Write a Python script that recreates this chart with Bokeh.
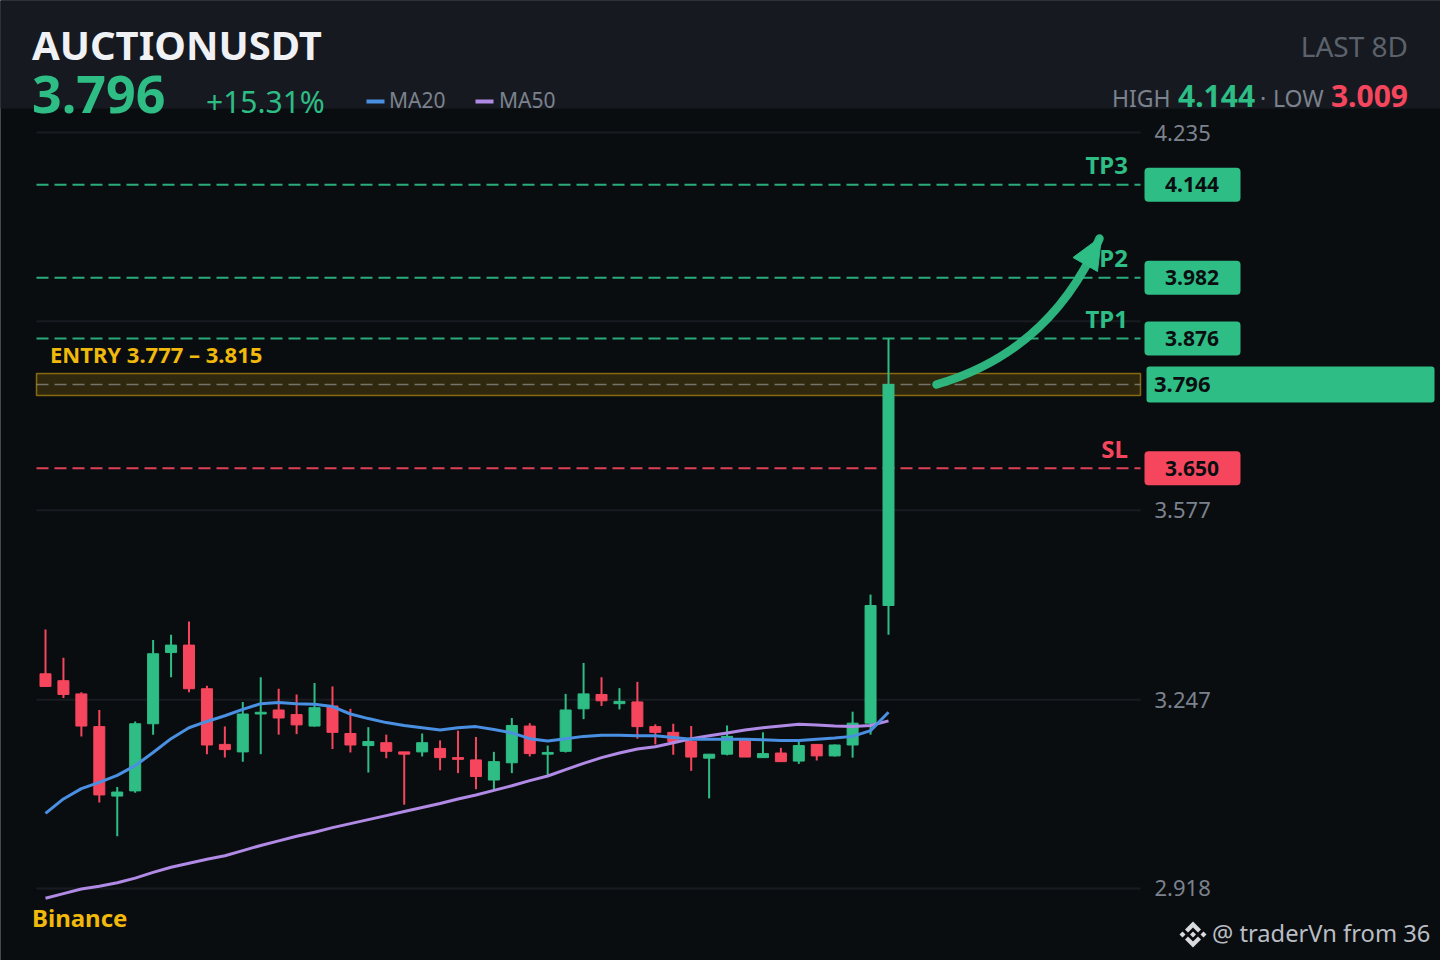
from bokeh.plotting import figure
from bokeh.models import Range1d, FixedTicker, NumeralTickFormatter
from bokeh.core.properties import value
from bokeh.embed import file_html
from bokeh.resources import INLINE

# ---------- data ----------
opens = [3.292,3.280,3.257,3.200,3.079,3.088,3.205,3.329,3.342,3.266,3.169,3.156,3.222,3.229,3.221,3.201,3.236,3.188,
         3.167,3.172,3.156,3.156,3.162,3.146,3.142,3.107,3.137,3.201,3.152,3.157,3.231,3.256,3.240,3.243,3.200,3.190,
         3.174,3.145,3.152,3.176,3.146,3.154,3.140,3.169,3.149,3.168,3.206,3.411]
closes = [3.270,3.256,3.201,3.081,3.086,3.205,3.327,3.342,3.266,3.168,3.160,3.222,3.225,3.215,3.203,3.233,3.190,3.168,
          3.174,3.157,3.152,3.172,3.146,3.143,3.113,3.139,3.202,3.153,3.155,3.229,3.257,3.245,3.244,3.200,3.190,3.174,
          3.147,3.152,3.183,3.147,3.153,3.139,3.167,3.149,3.168,3.206,3.411,3.796]
highs = [3.369,3.320,3.260,3.229,3.095,3.209,3.351,3.360,3.383,3.271,3.200,3.243,3.286,3.266,3.256,3.276,3.270,3.231,
         3.199,3.186,3.156,3.188,3.176,3.193,3.182,3.156,3.215,3.206,3.167,3.257,3.311,3.286,3.267,3.278,3.204,3.205,
         3.201,3.152,3.202,3.180,3.190,3.163,3.175,3.169,3.169,3.226,3.430,3.876]
lows = [3.270,3.250,3.183,3.068,3.009,3.085,3.186,3.286,3.260,3.152,3.146,3.139,3.152,3.186,3.187,3.200,3.161,3.155,
        3.120,3.145,3.064,3.148,3.124,3.119,3.091,3.090,3.119,3.148,3.115,3.155,3.213,3.236,3.230,3.179,3.169,3.151,
        3.123,3.075,3.150,3.147,3.146,3.139,3.135,3.141,3.148,3.146,3.186,3.360]
ma20 = [3.049,3.074,3.092,3.103,3.115,3.132,3.155,3.179,3.198,3.209,3.219,3.230,3.240,3.242,3.240,3.239,3.235,3.222,
        3.214,3.207,3.202,3.198,3.194,3.198,3.200,3.195,3.189,3.179,3.175,3.179,3.183,3.185,3.185,3.184,3.184,3.181,
        3.178,3.178,3.178,3.178,3.177,3.176,3.176,3.178,3.180,3.183,3.193,3.225]
ma50 = [2.901,2.909,2.917,2.922,2.928,2.936,2.946,2.955,2.962,2.969,2.975,2.984,2.993,3.001,3.009,3.016,3.024,3.031,
        3.038,3.045,3.052,3.059,3.066,3.074,3.081,3.089,3.097,3.106,3.114,3.125,3.136,3.146,3.154,3.161,3.165,3.172,
        3.179,3.184,3.189,3.194,3.198,3.201,3.204,3.203,3.201,3.200,3.202,3.210]

axis_ticks = [4.235, 3.577, 3.247, 2.918]
grid_levels = [4.235, 3.906, 3.577, 3.247, 2.918]
symbol = "AUCTIONUSDT"
last_price = 3.796
change = "+15.31%"
day_high = 4.144
day_low = 3.009
entry_low = 3.777
entry_high = 3.815
targets = [("TP3", 4.144), ("TP2", 3.982), ("TP1", 3.876)]
stop = ("SL", 3.650)

# ---------- styling ----------
GREEN = "#2EBD85"
RED = "#F6465D"
BLUE = "#4A90E2"
PURPLE = "#B18AE6"
YELLOW = "#F0B90B"
BG = "#0A0D10"
HEAD = "#161A20"
GRID = "#181C21"
GREY = "#7C828D"
DARK = "#0B0E11"
FONT = value("Noto Sans")

W, H = 1440, 960
SPACING = 17.936
PX_PER_PRICE = 574.03
X0 = -45 / SPACING
Y_TOP = 4.235 + 132 / PX_PER_PRICE


def fx(px):
    return X0 + px / SPACING


def fy(py):
    return Y_TOP - py / PX_PER_PRICE


def sy(price):
    return 132 + (4.235 - price) * PX_PER_PRICE


p = figure(width=W, height=H, output_backend="svg", toolbar_location=None,
           x_range=Range1d(X0, X0 + W / SPACING),
           y_range=Range1d(Y_TOP - H / PX_PER_PRICE, Y_TOP),
           x_axis_location=None, y_axis_location="right",
           min_border=0, min_border_left=0, min_border_right=0, min_border_top=0, min_border_bottom=0,
           background_fill_color=BG, border_fill_color=BG, outline_line_color=None)
p.grid.visible = False

axis = p.yaxis[0]
axis.fixed_location = fx(1140)
axis.ticker = FixedTicker(ticks=axis_ticks)
axis.formatter = NumeralTickFormatter(format="0.000")
axis.axis_line_color = None
axis.major_tick_line_color = None
axis.minor_tick_line_color = None
axis.major_label_standoff = 8
axis.major_label_text_color = GREY
axis.major_label_text_font = "Noto Sans"
axis.major_label_text_font_size = "22px"

# page background and header band
p.quad(left=fx(-6), right=fx(1446), top=fy(-6), bottom=fy(966), fill_color=BG, line_color=None)
p.quad(left=fx(-6), right=fx(1446), top=fy(-6), bottom=fy(108), fill_color=HEAD, line_color=None)

# grid
p.segment(x0=[fx(36)] * len(grid_levels), x1=[fx(1140)] * len(grid_levels),
          y0=grid_levels, y1=grid_levels, line_color=GRID, line_width=2)

# entry band
p.quad(left=fx(36), right=fx(1140), top=entry_high, bottom=entry_low,
       fill_color=YELLOW, fill_alpha=0.16, line_color=YELLOW, line_alpha=0.5, line_width=1.5)

# levels
DASH = "12 6"
for _, lv in targets:
    p.segment(x0=fx(36), x1=fx(1140), y0=lv, y1=lv, line_color=GREEN, line_width=2, line_alpha=0.9, line_dash=DASH)
p.segment(x0=fx(36), x1=fx(1140), y0=stop[1], y1=stop[1], line_color=RED, line_width=2, line_alpha=0.9, line_dash=DASH)
p.segment(x0=fx(36), x1=fx(1140), y0=last_price, y1=last_price, line_color="#AEB2B8", line_width=1.5, line_alpha=0.55, line_dash=DASH)

# candles
xs = list(range(len(opens)))
cols = [GREEN if c >= o else RED for o, c in zip(opens, closes)]
p.segment(x0=xs, x1=xs, y0=lows, y1=highs, line_color=cols, line_width=2)
p.vbar(x=xs, width=11 / SPACING, top=[max(o, c) for o, c in zip(opens, closes)],
       bottom=[min(o, c) for o, c in zip(opens, closes)], fill_color=cols, line_color=cols, line_width=1)

# moving averages
p.line(xs, ma50, line_color=PURPLE, line_width=3)
p.line(xs, ma20, line_color=BLUE, line_width=3)


def txt(px, py, s, color, size, bold=False, align="left"):
    p.text(x=[fx(px - 0.5)], y=[fy(py)], text=[s], text_color=color, text_font=FONT, text_font_size=f"{size}px",
           text_font_style="bold" if bold else "normal", text_align=align, text_baseline="middle")


# level labels and price tags
for name, lv in targets:
    txt(1128, sy(lv) - 20, name, GREEN, 24, True, "right")
txt(1128, sy(stop[1]) - 20, stop[0], RED, 24, True, "right")

for (col, lv) in [(GREEN, t[1]) for t in targets] + [(RED, stop[1])]:
    yc = sy(lv)
    p.quad(left=fx(1144), right=fx(1240), top=fy(yc - 17), bottom=fy(yc + 17), fill_color=col, line_color=None,
           border_radius=4)
    txt(1192, yc, f"{lv:.3f}", DARK, 21, True, "center")

yc = sy(last_price)
p.quad(left=fx(1146), right=fx(1434), top=fy(yc - 18), bottom=fy(yc + 18), fill_color=GREEN, line_color=None,
       border_radius=3)
txt(1154, yc, f"{last_price:.3f}", DARK, 22, True)

txt(50, 353.5, f"ENTRY {entry_low:.3f} – {entry_high:.3f}", YELLOW, 22, True)

# arrow
p.quadratic(x0=fx(936), y0=fy(384), x1=fx(1099), y1=fy(238), cx=fx(1050), cy=fy(351),
            line_color=GREEN, line_width=8.5, line_cap="round", line_alpha=0.95)
p.patch(x=[fx(1101), fx(1072.5), fx(1097)], y=[fy(236), fy(257), fy(271)], fill_color=GREEN, line_color=GREEN, line_width=1)

# header
txt(32, 44, symbol, "#F0F1F5", 40, True)
txt(32, 93.5, f"{last_price:.3f}", GREEN, 52, True)
txt(206, 101, change, GREEN, 30)
p.quad(left=fx(366), right=fx(384), top=fy(99), bottom=fy(103), fill_color=BLUE, line_color=None)
txt(389, 99.5, "MA20", GREY, 21)
p.quad(left=fx(475), right=fx(493), top=fy(99), bottom=fy(103), fill_color=PURPLE, line_color=None)
txt(499, 99.5, "MA50", GREY, 21)
txt(1408, 45, "LAST 8D", "#5C626C", 28, False, "right")
txt(1112, 97, "HIGH", GREY, 23)
txt(1178, 95, f"{day_high:.3f}", GREEN, 30, True)
txt(1260, 97, "·", GREY, 23)
txt(1273, 97, "LOW", GREY, 23)
txt(1408, 95, f"{day_low:.3f}", RED, 30, True, "right")

# footer
txt(32, 916.5, "Binance", YELLOW, 24, True)
txt(1212, 932, "@ traderVn from 36", "#B9BDC4", 23.7)
cx, cy = 1192.5, 934
logo = [
    [(0, -13), (8, -5), (5, -2), (0, -7), (-5, -2), (-8, -5)],
    [(0, 13), (8, 5), (5, 2), (0, 7), (-5, 2), (-8, 5)],
    [(-13.5, 0), (-10.5, -3), (-7.5, 0), (-10.5, 3)],
    [(13.5, 0), (10.5, -3), (7.5, 0), (10.5, 3)],
    [(0, -3), (3, 0), (0, 3), (-3, 0)],
]
p.patches(xs=[[fx(cx + a) for a, _ in s] for s in logo], ys=[[fy(cy + b) for _, b in s] for s in logo],
          fill_color="#D9DBDF", line_color=None)

open("out.html", "w").write(file_html(p, INLINE))
